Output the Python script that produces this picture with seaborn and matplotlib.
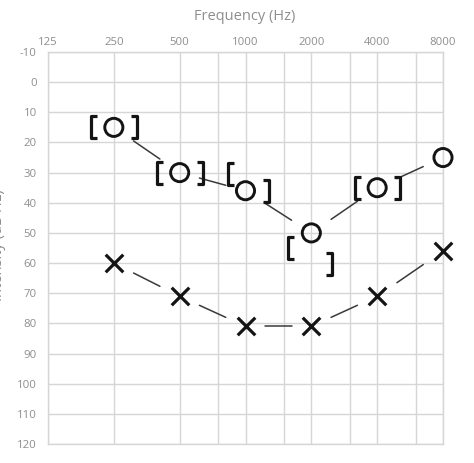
import numpy as np
import pandas as pd
import matplotlib
matplotlib.use('Agg')
import matplotlib.pyplot as plt
from matplotlib.path import Path
from matplotlib.markers import MarkerStyle
from matplotlib.transforms import offset_copy
import seaborn as sns

# audiogram values
freq_hz = [250, 500, 1000, 2000, 4000, 8000]
circle_db = [15, 30, 36, 50, 35, 25]
cross_db = [60, 71, 81, 81, 71, 56]
bracketed = [True, True, True, True, True, False]

x_tick_hz = [125, 250, 500, 1000, 2000, 4000, 8000]
half_octave_hz = [750, 1500, 3000, 6000]
y_ticks = list(range(-10, 121, 10))

# bracket placement around the circle, in pixels (dx, dy down)
bracket_px = {
    1000: ((-18, -17), (23, 0)),
    2000: ((-23, 15), (21, 31)),
}
normal_px = ((-22.5, 0), (23, 0))

GRID = '#d6d6d6'
TXT = '#8e8e8e'
INK = '#141414'

left_br = MarkerStyle(Path([(0.6, 1), (0, 1), (0, -1), (0.6, -1)]), joinstyle='miter', capstyle='butt')
right_br = MarkerStyle(Path([(-0.6, 1), (0, 1), (0, -1), (-0.6, -1)]), joinstyle='miter', capstyle='butt')


def segments(freqs, dbs, name, t0=0.3, t1=0.7):
    # short connector lines that stop before the symbols
    rows = []
    lf = np.log2(freqs)
    for i in range(len(freqs) - 1):
        for t in (t0, t1):
            rows.append({'seg': name + str(i),
                         'freq': 2 ** (lf[i] + t * (lf[i + 1] - lf[i])),
                         'db': dbs[i] + t * (dbs[i + 1] - dbs[i])})
    return rows


sns.set_style('white')
plt.rcParams['font.family'] = ['Open Sans', 'DejaVu Sans']
plt.rcParams['axes.unicode_minus'] = False

fig = plt.figure(figsize=(4.74, 4.63), dpi=100)
ax = fig.add_axes([48 / 474, 1 - 444 / 463, 395 / 474, 392 / 463])
ax.set_xscale('log', base=2)

seg_df = pd.DataFrame(segments(freq_hz, circle_db, 'o') + segments(freq_hz, cross_db, 'x'))
sns.lineplot(data=seg_df, x='freq', y='db', units='seg', estimator=None, sort=False,
             color='#3a3a3a', linewidth=1.1, ax=ax)

sns.scatterplot(x=freq_hz, y=circle_db, marker='o', s=170, color=INK, linewidth=2.1,
                ax=ax, zorder=5, clip_on=False)
circ = ax.collections[-1]
circ.set_facecolor('none')
circ.set_edgecolor(INK)

sns.scatterplot(x=freq_hz, y=cross_db, marker='x', s=160, color=INK, linewidth=2.3,
                ax=ax, zorder=5, clip_on=False)

for f, d, b in zip(freq_hz, circle_db, bracketed):
    if not b:
        continue
    (lx, ly), (rx, ry) = bracket_px.get(f, normal_px)
    for mk, dx, dy in ((left_br, lx, ly), (right_br, rx, ry)):
        tr = offset_copy(ax.transData, fig=fig, x=dx, y=-dy, units='dots')
        ax.plot([f], [d], marker=mk, markersize=15.5, markeredgewidth=2.3,
                markeredgecolor=INK, markerfacecolor='none', linestyle='none',
                transform=tr, zorder=6, clip_on=False)

ax.set_xlim(125, 8000)
ax.set_ylim(120, -10)
ax.set_xticks(x_tick_hz)
ax.set_xticklabels([str(v) for v in x_tick_hz])
ax.set_xticks(half_octave_hz, minor=True)
ax.xaxis.set_minor_formatter(matplotlib.ticker.NullFormatter())
ax.set_yticks(y_ticks)
ax.xaxis.tick_top()
ax.tick_params(axis='both', which='both', length=0, labelsize=8.2, labelcolor=TXT)
ax.tick_params(axis='x', pad=3)
ax.tick_params(axis='y', pad=8)
ax.grid(True, which='both', color=GRID, linewidth=1)
ax.set_axisbelow(True)
for sp in ax.spines.values():
    sp.set_color(GRID)
    sp.set_linewidth(1)
ax.set_xlabel('')
ax.set_ylabel('')

fig.text(245 / 474, 1 - 16 / 463, 'Frequency (Hz)', ha='center', va='center', fontsize=10.5, color=TXT)
fig.text(-1 / 474, 1 - 245 / 463, 'Intensity (dB HL)', ha='center', va='center', rotation=90,
         fontsize=10.5, color=TXT)

fig.savefig('out.png', dpi=100)
